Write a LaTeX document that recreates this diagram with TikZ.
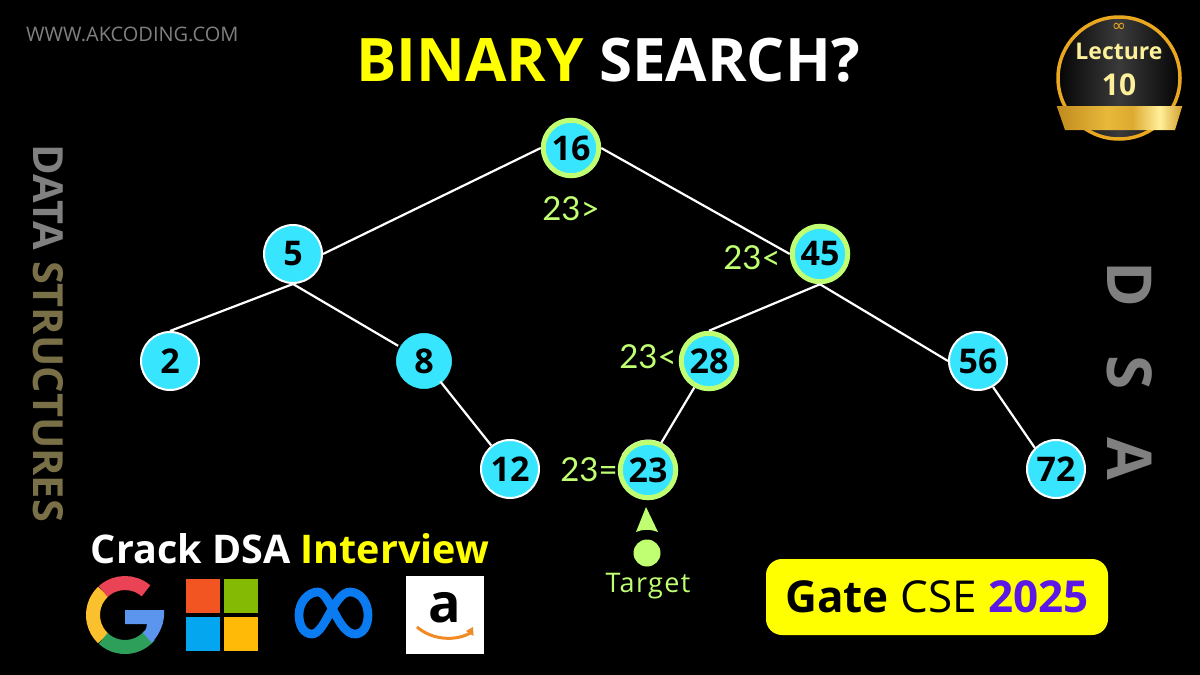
\documentclass[tikz,border=0pt]{standalone}
\usepackage{fontspec}
\setmainfont{Open Sans}
\newfontfamily\lblf{Lato}
\newfontfamily\trackf[LetterSpace=5]{Open Sans}
\newfontfamily\symf{DejaVu Sans}
\definecolor{cy}{HTML}{38E5FF}
\definecolor{lime}{HTML}{C1FF72}
\definecolor{gold}{HTML}{E9A81F}
\definecolor{cream}{HTML}{FDF09B}
\definecolor{ylw}{HTML}{FFFF00}
\definecolor{olive}{HTML}{7A7048}
\definecolor{gred}{HTML}{EA4355}
\definecolor{gyel}{HTML}{FBC02D}
\definecolor{ggrn}{HTML}{2E9E5B}
\definecolor{gblu}{HTML}{5C95EE}
\definecolor{msr}{HTML}{F25522}
\definecolor{msg}{HTML}{84BA04}
\definecolor{msb}{HTML}{05A6F0}
\definecolor{msy}{HTML}{FFBA08}
\definecolor{metab}{HTML}{0A7BF0}
\definecolor{purp}{HTML}{5B17E6}
\definecolor{amz}{HTML}{F08A24}
\definecolor{rba}{HTML}{C08A1E}
\definecolor{rbb}{HTML}{E8B93A}
\definecolor{rbc}{HTML}{DDAA30}
\definecolor{rbd}{HTML}{FFF09A}
\definecolor{rbe}{HTML}{D49E2A}
\definecolor{bdk}{HTML}{050505}
\definecolor{bgr}{HTML}{3A3A3A}
\pgfdeclarehorizontalshading{ribbonshade}{100bp}{color(0bp)=(rba);color(25bp)=(rba);color(45bp)=(rbb);color(55bp)=(rbc);color(66bp)=(rbd);color(75bp)=(rbe);color(100bp)=(rbe)}
\pgfdeclarehorizontalshading{badgeshade}{100bp}{color(0bp)=(bdk);color(25bp)=(bdk);color(50bp)=(bgr);color(75bp)=(bdk);color(100bp)=(bdk)}
\tikzset{
 x=1pt,y=-1pt,
 numfont/.style={font=\fontsize{34}{34}\selectfont\bfseries},
 plain/.style={circle,fill=cy,draw=white,line width=2pt,minimum size=58pt,inner sep=0pt,numfont,text=black},
 visited/.style={circle,fill=cy,draw=lime,line width=5pt,minimum size=55.5pt,inner sep=0pt,numfont,text=black},
 edgeline/.style={draw=white,line width=2.2pt},
 cmp/.style={text=lime,font=\lblf\fontsize{33}{33}\selectfont,inner sep=0pt},
}
\begin{document}
\begin{tikzpicture}
\useasboundingbox (0,0) rectangle (1200,675);
\fill[black] (0,0) rectangle (1200,675);
% header
\node[text=gray,font=\fontsize{20}{20}\selectfont,anchor=west,inner sep=0pt] (web) at (26,34) {WWW.AKCODING.COM};
\node[font=\fontsize{60}{60}\selectfont\bfseries,inner sep=0pt] (title) at (608,60) {\textcolor{ylw}{BINARY} \textcolor{white}{SEARCH?}};
% side text
\node[rotate=-90,font=\fontsize{41.5}{42}\selectfont\bfseries,inner sep=0pt] (ds) at (48,333.5) {\textcolor{gray}{DATA} \textcolor{olive}{STRUCTURES}};
\node[rotate=-90,text=gray,font=\fontsize{62}{62}\selectfont\bfseries,inner sep=0pt] (dsa) at (1130,371) {D\hspace{48pt}S\hspace{48pt}A};
% tree nodes
\draw[white,line width=1pt] (648,470) ++(-150:30) arc[start angle=-150,end angle=-30,radius=30];
\node[visited] (n16) at (571,148) {16};
\node[plain] (n5) at (293,254) {5};
\node[visited] (n45) at (820,254) {45};
\node[plain] (n2) at (170,361) {2};
\node[plain,draw=black] (n8) at (424,361) {8};
\node[visited] (n28) at (709,361) {28};
\node[plain] (n56) at (978,361) {56};
\node[plain] (n12) at (510,469) {12};
\node[visited] (n23) at (648,470) {23};
\node[plain] (n72) at (1056,469) {72};
% edges
\draw[edgeline] (n16.west) -- (n5.east);
\draw[edgeline] (n16.east) -- (n45.west);
\draw[edgeline] (n5.south) -- (n2.north);
\draw[edgeline] (n5.south) -- (n8);
\draw[edgeline] (n45.south) -- (n28.north);
\draw[edgeline] (n45.south) -- (n56.west);
\draw[edgeline,shorten <=-4pt] (n8) -- (n12);
\draw[edgeline] (n28.241) -- (n23.64);
\draw[edgeline] (n56.-60) -- (n72.135);
% comparison labels
\node[cmp] (c1) at (571,209) {23>};
\node[cmp] (c2) at (752,258) {23<};
\node[cmp] (c3) at (648,357) {23<};
\node[cmp] (c4) at (589,470) {23=};
% target
\fill[lime] (646,507) -- (658,532) .. controls (650,529) and (643,529) .. (636,532) -- cycle;
\node[circle,fill=lime,minimum size=27pt,inner sep=0pt] (tdot) at (647,553) {};
\node[text=lime,font=\trackf\fontsize{27}{27}\selectfont,inner sep=0pt] (tlabel) at (648,586) {Target};
% interview
\node[font=\fontsize{39.5}{40}\selectfont\bfseries,inner sep=0pt] (crack) at (290,549) {\textcolor{white}{Crack DSA} \textcolor{ylw}{Interview}};
% Google
\begin{scope}[shift={(125,615)},line width=14pt]
\draw[gyel] (-133:32) arc[start angle=-133,end angle=-227,radius=32];
\draw[ggrn] (133:32) arc[start angle=133,end angle=40,radius=32];
\draw[gred] (-133:32) arc[start angle=-133,end angle=-49,radius=32];
\end{scope}
\fill[gblu] (125,610) -- (164,610) .. controls (165,622) and (160,634) .. (151.7,642.7) -- (143,633) .. controls (146,630) and (147,627) .. (147,624) -- (125,624) -- cycle;
% Microsoft
\fill[msr] (186,579.3) rectangle (220.3,613.3);
\fill[msg] (223.7,579.3) rectangle (257.7,613.3);
\fill[msb] (186,617) rectangle (220.3,650.7);
\fill[msy] (223.7,617) rectangle (257.7,650.7);
% Meta
\draw[metab,line width=8.7pt,line join=round] (318,592) .. controls (330,592) and (338,634) .. (355,634) .. controls (363,634) and (368,626) .. (368,615) .. controls (368,602) and (360,592) .. (350,592) .. controls (334,592) and (325,634) .. (312,634) .. controls (304,634) and (299,626) .. (299,615) .. controls (299,602) and (308,592) .. (318,592) -- cycle;
% Amazon
\fill[white] (405.7,575.7) rectangle (484.3,654.3);
\node[text=black,font=\fontsize{54}{54}\selectfont\bfseries,inner sep=0pt] (amza) at (445,608) {a};
\draw[amz,line width=3pt] (417,627) .. controls (432,640) and (456,642) .. (472,632);
\fill[amz] (473,627) -- (473.5,636) -- (466,631) -- cycle;
% Gate box
\node[fill=ylw,rounded corners=16pt,minimum width=342pt,minimum height=76pt,inner sep=0pt,font=\fontsize{44}{44}\selectfont] (gate) at (937,597) {\textbf{\textcolor{black}{Gate}} \textcolor{black}{CSE} \textbf{\textcolor{purp}{2025}}};
% Badge
\shade[shading=badgeshade] (1119,78) circle[radius=61];
\draw[gold,line width=3.5pt] (1119,78) circle[radius=61];
\shade[shading=ribbonshade] (1056.7,106) -- (1182.3,106) -- (1175,130) -- (1065,130) -- cycle;
\node[text=gold,font=\symf\fontsize{17}{17}\selectfont,inner sep=0pt] (inf) at (1119,27) {∞};
\node[text=cream,font=\fontsize{23}{23}\selectfont\bfseries,inner sep=0pt] (lec) at (1119,51) {Lecture};
\node[text=cream,font=\fontsize{30}{30}\selectfont\bfseries,inner sep=0pt] (ten) at (1119,85) {10};
\end{tikzpicture}
\end{document}
